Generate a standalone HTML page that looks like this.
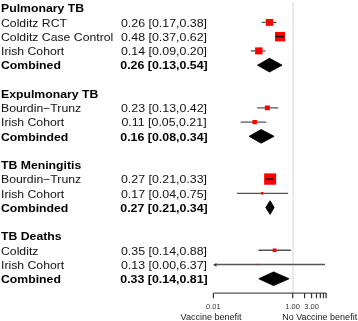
<!DOCTYPE html>
<html><head><meta charset="utf-8"><style>
html,body{margin:0;padding:0;background:#fff;}
body{width:358px;height:321px;overflow:hidden;}
svg{display:block;}
text{font-family:"Liberation Sans",Arial,sans-serif;}
.r{font-size:12.25px;fill:#111;}
.b{font-size:12.25px;font-weight:bold;fill:#000;}
.ax{font-size:7.5px;fill:#333;}
.al{font-size:9px;fill:#222;}
</style></head><body>
<svg width="358" height="321" viewBox="0 0 358 321">
<line x1="293.0" y1="1" x2="293.0" y2="293.1" stroke="#e6e6e6" stroke-width="1.6"/>
<text transform="translate(1.00 12.46) scale(1 0.92)" class="b">Pulmonary TB</text>
<text transform="translate(1.00 26.70) scale(1 0.955)" class="r">Colditz RCT</text>
<text transform="translate(164.00 26.70) scale(1 0.955)" class="r" text-anchor="middle" style="font-size:12.4px">0.26 [0.17,0.38]</text>
<line x1="262.16" y1="22.40" x2="276.00" y2="22.40" stroke="#555" stroke-width="1.3" stroke-linecap="round"/>
<rect x="265.82" y="18.95" width="7.3" height="6.90" fill="#f00"/>
<text transform="translate(1.00 40.94) scale(1 0.955)" class="r">Colditz Case Control</text>
<text transform="translate(164.00 40.94) scale(1 0.955)" class="r" text-anchor="middle" style="font-size:12.4px">0.48 [0.37,0.62]</text>
<line x1="275.54" y1="36.64" x2="284.42" y2="36.64" stroke="#555" stroke-width="1.3" stroke-linecap="round"/>
<rect x="275.02" y="31.92" width="10" height="9.45" fill="#f00"/>
<line x1="275.54" y1="36.64" x2="284.42" y2="36.64" stroke="#1a0a0a" stroke-width="1.4"/>
<text transform="translate(1.00 55.18) scale(1 0.955)" class="r">Irish Cohort</text>
<text transform="translate(164.00 55.18) scale(1 0.955)" class="r" text-anchor="middle" style="font-size:12.4px">0.14 [0.09,0.20]</text>
<line x1="251.22" y1="50.88" x2="264.96" y2="50.88" stroke="#555" stroke-width="1.3" stroke-linecap="round"/>
<rect x="255.12" y="47.39" width="7.4" height="6.99" fill="#f00"/>
<text transform="translate(1.00 69.43) scale(1 0.92)" class="b">Combined</text>
<text transform="translate(164.00 69.43) scale(1 0.92)" class="b" text-anchor="middle" style="font-size:12.4px">0.26 [0.13,0.54]</text>
<polygon points="257.54,65.13 269.47,58.33 282.05,65.13 269.47,71.93" fill="#000" stroke="#000" stroke-width="0.9"/>
<text transform="translate(1.00 97.91) scale(1 0.92)" class="b">Expulmonary TB</text>
<text transform="translate(1.00 112.15) scale(1 0.955)" class="r">Bourdin−Trunz</text>
<text transform="translate(164.00 112.15) scale(1 0.955)" class="r" text-anchor="middle" style="font-size:12.4px">0.23 [0.13,0.42]</text>
<line x1="257.54" y1="107.85" x2="277.72" y2="107.85" stroke="#555" stroke-width="1.3" stroke-linecap="round"/>
<rect x="264.86" y="105.49" width="5.0" height="4.72" fill="#f00"/>
<text transform="translate(1.00 126.39) scale(1 0.955)" class="r">Irish Cohort</text>
<text transform="translate(164.00 126.39) scale(1 0.955)" class="r" text-anchor="middle" style="font-size:12.4px">0.11 [0.05,0.21]</text>
<line x1="241.10" y1="122.09" x2="265.80" y2="122.09" stroke="#555" stroke-width="1.3" stroke-linecap="round"/>
<rect x="252.42" y="119.97" width="4.5" height="4.25" fill="#f00"/>
<text transform="translate(1.00 140.64) scale(1 0.92)" class="b">Combinded</text>
<text transform="translate(164.00 140.64) scale(1 0.92)" class="b" text-anchor="middle" style="font-size:12.4px">0.16 [0.08,0.34]</text>
<polygon points="249.19,136.34 261.12,129.54 274.09,136.34 261.12,143.14" fill="#000" stroke="#000" stroke-width="0.9"/>
<text transform="translate(1.00 169.12) scale(1 0.92)" class="b">TB Meningitis</text>
<text transform="translate(1.00 183.36) scale(1 0.955)" class="r">Bourdin−Trunz</text>
<text transform="translate(164.00 183.36) scale(1 0.955)" class="r" text-anchor="middle" style="font-size:12.4px">0.27 [0.21,0.33]</text>
<line x1="265.80" y1="179.06" x2="273.57" y2="179.06" stroke="#555" stroke-width="1.3" stroke-linecap="round"/>
<rect x="264.12" y="173.39" width="12.0" height="11.34" fill="#f00"/>
<line x1="265.80" y1="179.06" x2="273.57" y2="179.06" stroke="#1a0a0a" stroke-width="1.4"/>
<text transform="translate(1.00 197.60) scale(1 0.955)" class="r">Irish Cohort</text>
<text transform="translate(164.00 197.60) scale(1 0.955)" class="r" text-anchor="middle" style="font-size:12.4px">0.17 [0.04,0.75]</text>
<line x1="237.26" y1="193.30" x2="287.70" y2="193.30" stroke="#555" stroke-width="1.3" stroke-linecap="round"/>
<rect x="260.86" y="192.08" width="2.6" height="2.46" fill="#f00"/>
<text transform="translate(1.00 211.85) scale(1 0.92)" class="b">Combinded</text>
<text transform="translate(164.00 211.85) scale(1 0.92)" class="b" text-anchor="middle" style="font-size:12.4px">0.27 [0.21,0.34]</text>
<polygon points="265.80,207.55 270.12,200.75 274.09,207.55 270.12,214.35" fill="#000" stroke="#000" stroke-width="0.9"/>
<text transform="translate(1.00 240.33) scale(1 0.92)" class="b">TB Deaths</text>
<text transform="translate(1.00 254.57) scale(1 0.955)" class="r">Colditz</text>
<text transform="translate(164.00 254.57) scale(1 0.955)" class="r" text-anchor="middle" style="font-size:12.4px">0.35 [0.14,0.88]</text>
<line x1="258.82" y1="250.27" x2="290.45" y2="250.27" stroke="#555" stroke-width="1.3" stroke-linecap="round"/>
<rect x="272.69" y="248.48" width="3.8" height="3.59" fill="#f00"/>
<text transform="translate(1.00 268.81) scale(1 0.955)" class="r">Irish Cohort</text>
<text transform="translate(164.00 268.81) scale(1 0.955)" class="r" text-anchor="middle" style="font-size:12.4px">0.13 [0.00,6.37]</text>
<line x1="216.41" y1="264.51" x2="324.51" y2="264.51" stroke="#555" stroke-width="1.3" stroke-linecap="round"/>
<polygon points="213.11,264.81 216.41,262.91 216.41,266.71" fill="#333"/>
<rect x="256.79" y="263.81" width="1.5" height="1.42" fill="#f00"/>
<text transform="translate(1.00 283.06) scale(1 0.92)" class="b">Combined</text>
<text transform="translate(164.00 283.06) scale(1 0.92)" class="b" text-anchor="middle" style="font-size:12.4px">0.33 [0.14,0.81]</text>
<polygon points="258.82,278.76 273.57,271.96 289.02,278.76 273.57,285.56" fill="#000" stroke="#000" stroke-width="0.9"/>
<line x1="213.41" y1="293.1" x2="326.13" y2="293.1" stroke="#555" stroke-width="1.3"/>
<line x1="213.41" y1="293.1" x2="213.41" y2="298.3" stroke="#333" stroke-width="1.2"/>
<line x1="292.65" y1="293.1" x2="292.65" y2="298.3" stroke="#333" stroke-width="1.2"/>
<line x1="304.58" y1="293.1" x2="304.58" y2="298.3" stroke="#333" stroke-width="1.2"/>
<line x1="311.55" y1="293.1" x2="311.55" y2="298.3" stroke="#333" stroke-width="1.2"/>
<line x1="316.50" y1="293.1" x2="316.50" y2="298.3" stroke="#333" stroke-width="1.2"/>
<line x1="320.34" y1="293.1" x2="320.34" y2="298.3" stroke="#333" stroke-width="1.2"/>
<line x1="323.48" y1="293.1" x2="323.48" y2="298.3" stroke="#333" stroke-width="1.2"/>
<line x1="326.13" y1="293.1" x2="326.13" y2="298.3" stroke="#333" stroke-width="1.2"/>
<text x="213.41" y="309.0" class="ax" text-anchor="middle">0.01</text>
<text x="292.65" y="309.0" class="ax" text-anchor="middle">1.00</text>
<text x="311.55" y="309.0" class="ax" text-anchor="middle">3.00</text>
<text x="211" y="319.5" class="al" text-anchor="middle">Vaccine benefit</text>
<text x="319.7" y="319.5" class="al" text-anchor="middle">No Vaccine benefit</text>
</svg>
</body></html>
